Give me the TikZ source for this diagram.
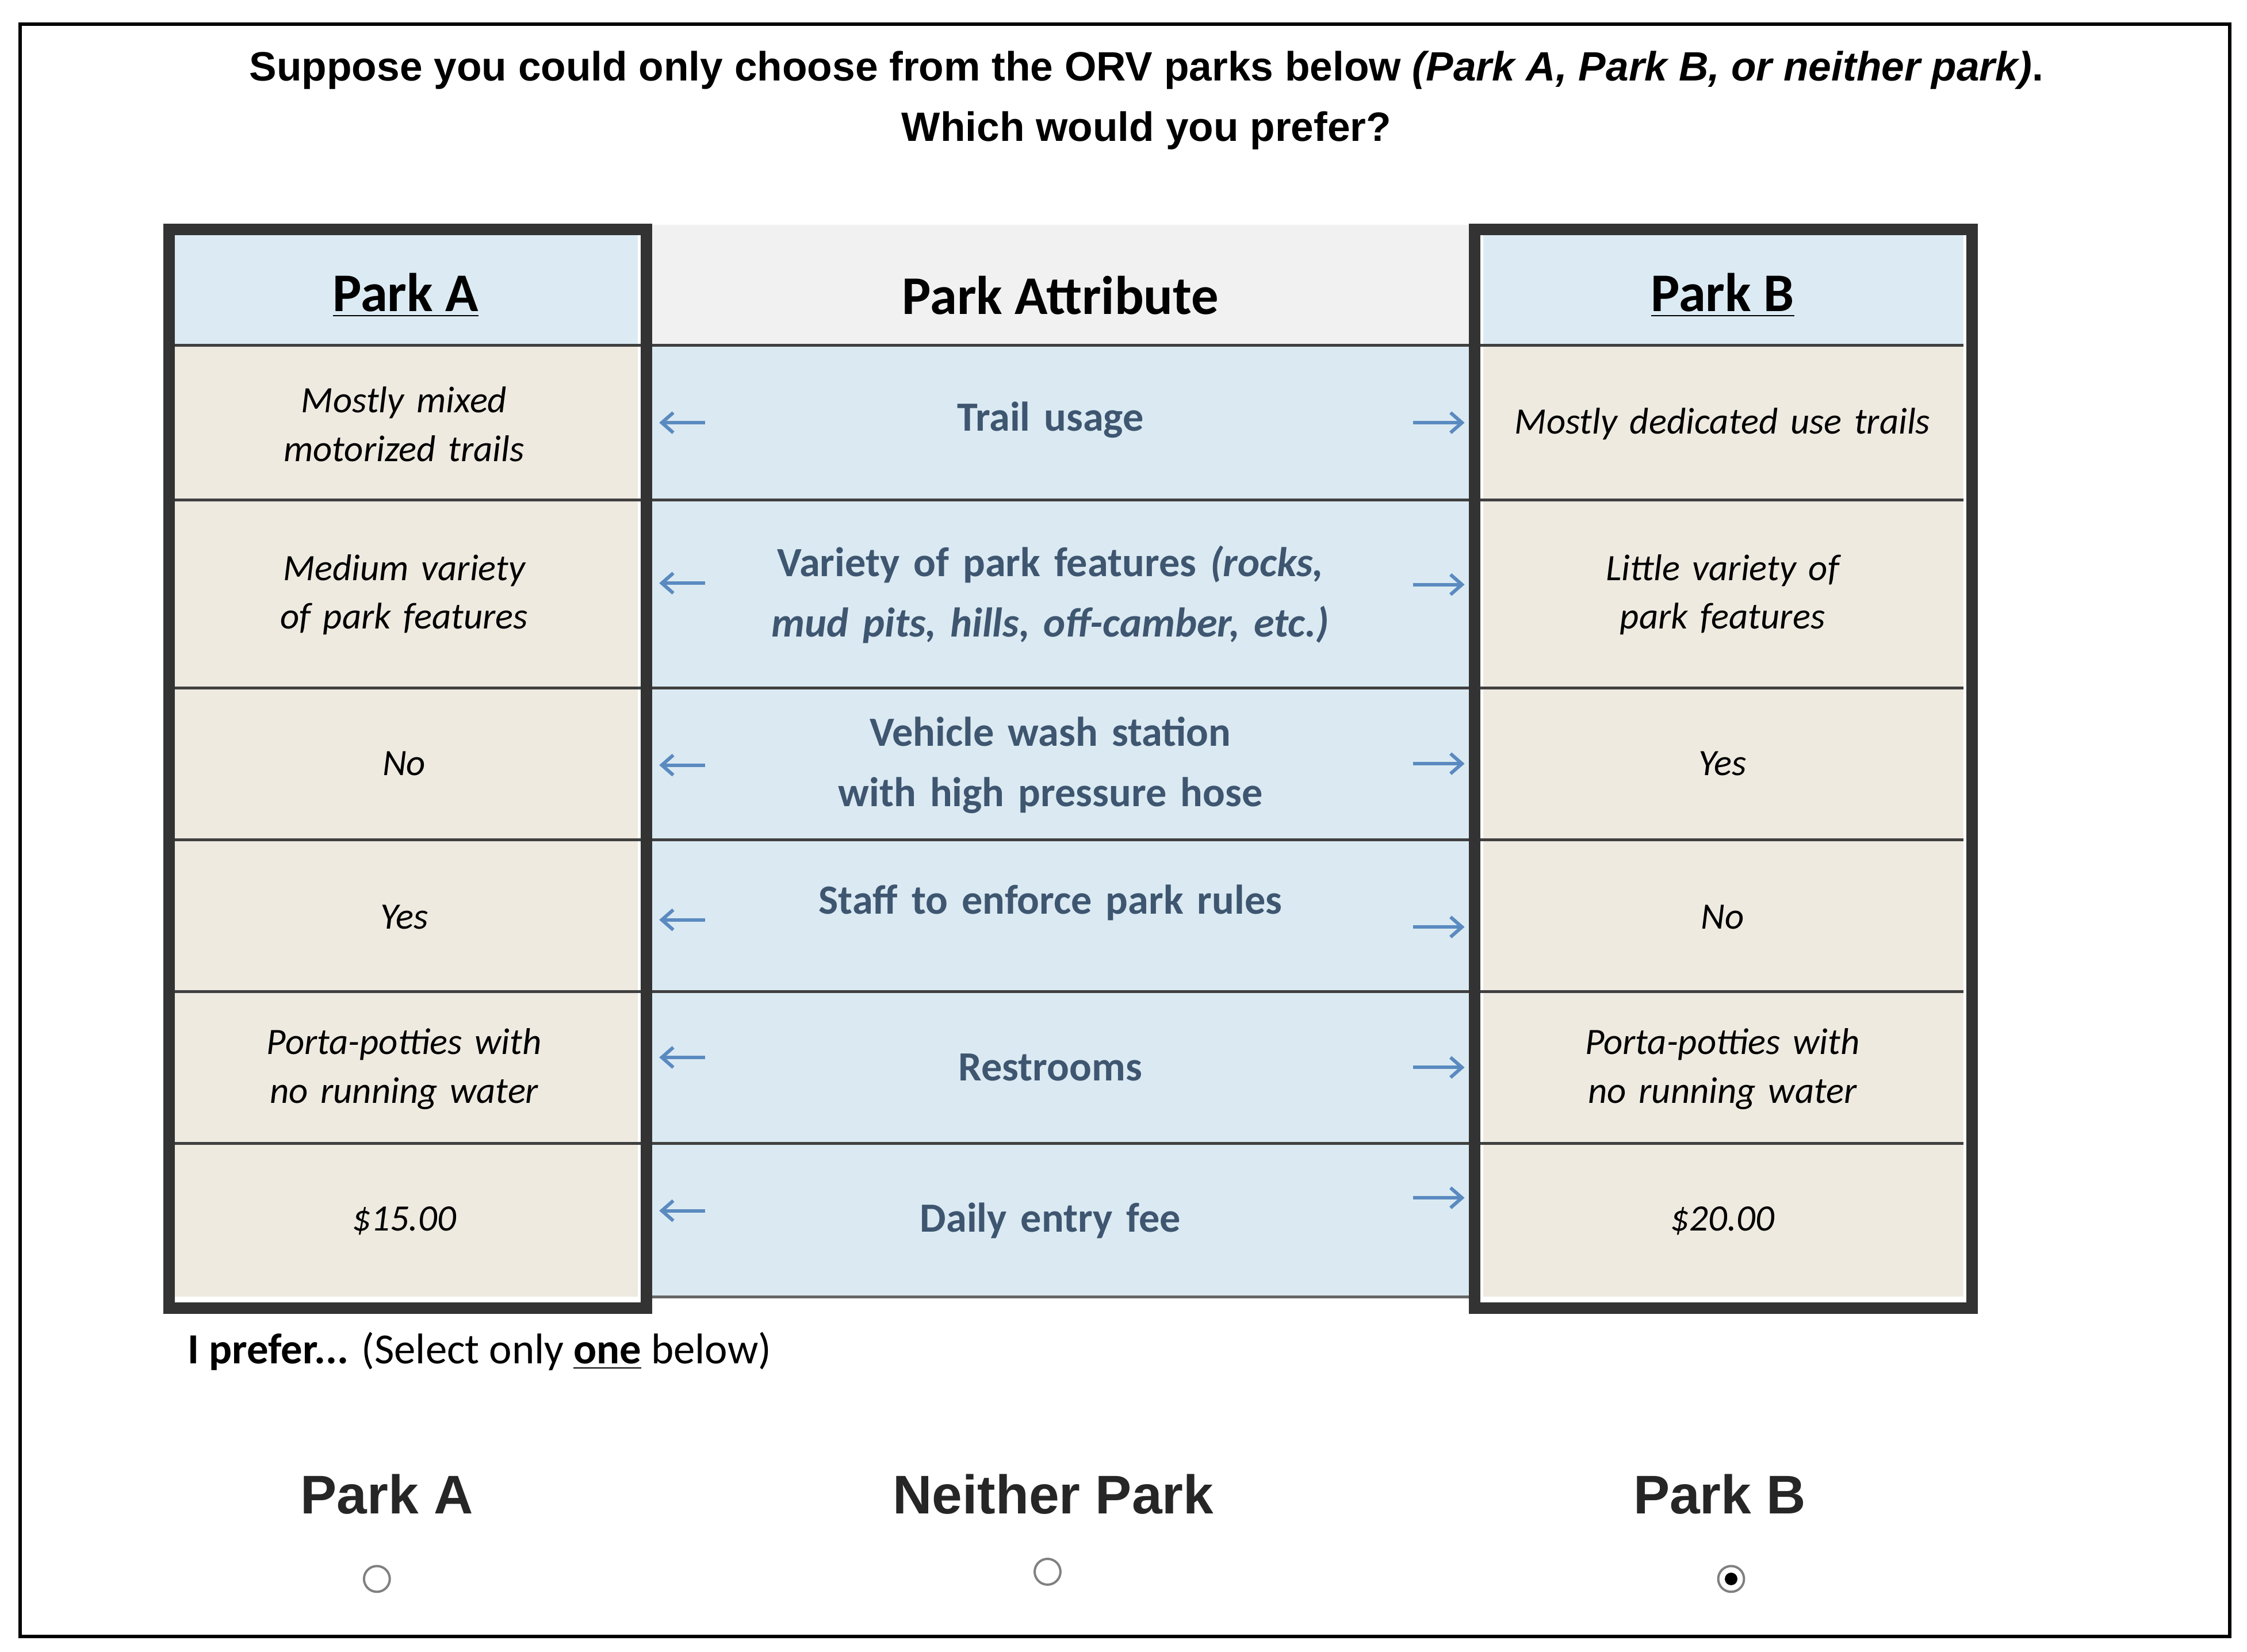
\documentclass[tikz,border=0pt]{standalone}
\usepackage{fontspec}
\setmainfont{Carlito}
\newfontfamily\arial{Liberation Sans}
\usetikzlibrary{arrows.meta}
\definecolor{hdrblue}{HTML}{DCEBF3}
\definecolor{midblue}{HTML}{DBEAF2}
\definecolor{beige}{HTML}{EEEAE0}
\definecolor{midgray}{HTML}{F1F1F1}
\definecolor{txtblue}{HTML}{3E5670}
\definecolor{arrblue}{HTML}{5A8AC0}
\tikzset{
 celltxt/.style={align=center,font=\fontsize{13}{17}\selectfont\itshape,text width=150pt},
 midtxt/.style={align=center,font=\fontsize{14.5}{21}\selectfont\bfseries,text=txtblue,text width=200pt},
 hdr/.style={font=\fontsize{19}{22}\selectfont\bfseries},
 arr/.style={-{Straight Barb[length=4pt,width=7pt]},arrblue,line width=1.2pt},
 sep/.style={line width=1pt,black!75},
 radio/.style={circle,draw=gray,line width=0.8pt,minimum size=9pt,inner sep=0pt,fill=white},
}
\begin{document}
\begin{tikzpicture}[x=0.5pt,y=-0.5pt]
\useasboundingbox (0,0) rectangle (1568,1153);
\draw[line width=1.2pt] (14,17) rectangle (1556,1142);
\node[font=\arial\bfseries\fontsize{14.3}{21}\selectfont,align=center] (title) at (800,70)
 {Suppose you could only choose from the ORV parks below \textit{(Park A, Park B, or neither park)}.\\Which would you prefer?};
% middle column
\fill[midgray] (455,157) rectangle (1025,241);
\fill[midblue] (455,241) rectangle (1025,905);
% side columns
\foreach \xa/\xb in {122/445,1035/1370}{
 \fill[hdrblue] (\xa,163) rectangle (\xb,241);
 \fill[beige] (\xa,241) rectangle (\xb,905);
}
\foreach \yy in {241,349,480,586,692,798}{
 \draw[sep] (122,\yy) -- (1370,\yy);
}
\draw[black!60,line width=1pt] (455,905) -- (1025,905);
\draw[line width=4pt,black!80] (118,160) rectangle (451,913);
\draw[line width=4pt,black!80] (1029,160) rectangle (1376,913);
\node[hdr] (ha) at (283,206) {\underline{Park A}};
\node[hdr] (hm) at (740,206) {Park Attribute};
\node[hdr] (hb) at (1202,206) {\underline{Park B}};
% rows
\node[celltxt] (a1) at (282,296) {Mostly mixed motorized trails};
\node[celltxt] (a2) at (282,415) {Medium variety of park features};
\node[celltxt] (a3) at (282,533) {No};
\node[celltxt] (a4) at (282,640) {Yes};
\node[celltxt] (a5) at (282,746) {Porta-potties with no running water};
\node[celltxt] (a6) at (282,852) {\$15.00};
\node[celltxt] (b1) at (1202,296) {Mostly dedicated use trails};
\node[celltxt] (b2) at (1202,415) {Little variety of park features};
\node[celltxt] (b3) at (1202,533) {Yes};
\node[celltxt] (b4) at (1202,640) {No};
\node[celltxt] (b5) at (1202,746) {Porta-potties with no running water};
\node[celltxt] (b6) at (1202,852) {\$20.00};
\node[midtxt] (m1) at (733,293) {Trail usage};
\node[midtxt] (m2) at (733,415) {Variety of park features \textit{(rocks, mud pits, hills, off-camber, etc.)}};
\node[midtxt] (m3) at (733,534) {Vehicle wash station with high pressure hose};
\node[midtxt] (m4) at (733,630) {Staff to enforce park rules};
\node[midtxt] (m5) at (733,745) {Restrooms};
\node[midtxt] (m6) at (733,852) {Daily entry fee};
\foreach \i/\yl/\yr in {1/295/295,2/407/408,3/534/533,4/642/647,5/738/745,6/845/836}{
 \coordinate (l\i s) at (492,\yl); \coordinate (l\i e) at (460,\yl);
 \coordinate (r\i s) at (986,\yr); \coordinate (r\i e) at (1022,\yr);
 \draw[arr] (l\i s) -- (l\i e);
 \draw[arr] (r\i s) -- (r\i e);
}
\node[anchor=west,font=\fontsize{15}{18}\selectfont] (pref) at (124,943) {\textbf{I prefer...} (Select only \textbf{\underline{one}} below)};
\node[font=\arial\fontsize{19}{22}\selectfont\bfseries,text=black!85] (pa) at (270,1043) {Park A};
\node[font=\arial\fontsize{19}{22}\selectfont\bfseries,text=black!85] (pn) at (735,1043) {Neither Park};
\node[font=\arial\fontsize{19}{22}\selectfont\bfseries,text=black!85] (pb) at (1200,1043) {Park B};
\node[radio] (ra) at (263,1102) {};
\node[radio] (rn) at (731,1097) {};
\node[radio] (rb) at (1208,1102) {};
\fill[black] (rb) circle (2.2pt);
\end{tikzpicture}
\end{document}
